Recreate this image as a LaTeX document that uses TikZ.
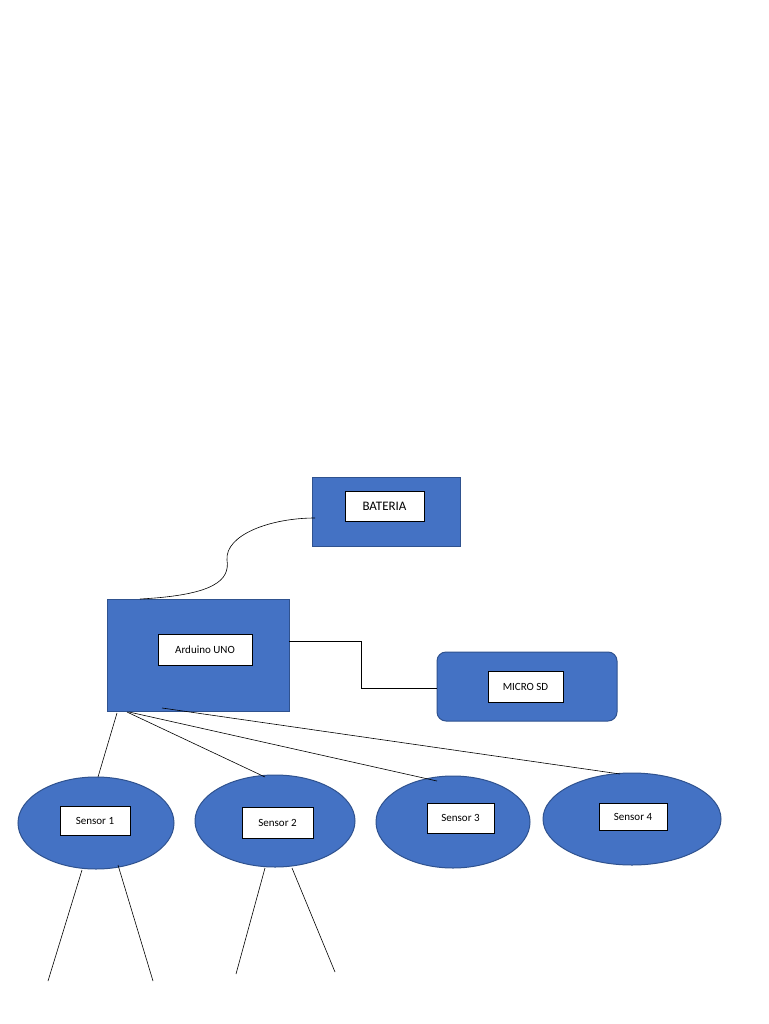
\documentclass[tikz,border=0pt]{standalone}
\usepackage{fontspec}
\setmainfont{Carlito}
\begin{document}
\begin{tikzpicture}[x=1pt,y=-1pt,
  blk/.style={fill={rgb,255:red,68;green,114;blue,196},draw={rgb,255:red,47;green,82;blue,143},line width=1pt},
  lbl/.style={fill=white,draw=black,line width=0.5pt,font=\fontsize{11}{12}\selectfont,inner sep=0pt},
  ln/.style={draw=black,line width=0.6pt}]
\useasboundingbox (0,0) rectangle (768,1024);
\fill[white] (0,0) rectangle (768,1024);
% blocks
\draw[blk] (312,477) rectangle (460,546);
\node[lbl,minimum width=79pt,minimum height=30pt,font=\fontsize{13}{14}\selectfont] (bat) at (384.5,506) {BATERIA};
\draw[blk] (107,599) rectangle (289,711);
\node[lbl,minimum width=94pt,minimum height=31pt] (ard) at (205,649.5) {Arduino UNO};
\draw[blk,rounded corners=9pt] (437,652) rectangle (617,721);
\node[lbl,minimum width=75pt,minimum height=31pt] (sd) at (525.5,686.5) {MICRO SD};
\draw[blk] (96,823) ellipse [x radius=78,y radius=46];
\draw[blk] (275,821) ellipse [x radius=80,y radius=46];
\draw[blk] (453,822) ellipse [x radius=77,y radius=46];
\draw[blk] (632,819) ellipse [x radius=89,y radius=46];
\node[lbl,minimum width=70pt,minimum height=29pt] (s1) at (95,820.5) {Sensor 1};
\node[lbl,minimum width=71pt,minimum height=31pt] (s2) at (277.5,822.5) {Sensor 2};
\node[lbl,minimum width=67pt,minimum height=30pt] (s3) at (460.5,818) {Sensor 3};
\node[lbl,minimum width=68pt,minimum height=27pt] (s4) at (633,816.5) {Sensor 4};
% connectors
\coordinate (ca) at (140,599);
\coordinate (cb) at (315,518);
\draw[ln] (ca) .. controls (215,595) and (230,580) .. (227,560) .. controls (225,535) and (270,518) .. (cb);
\draw[ln] (289,641) -- (361,641) -- (361,688) -- (437,688);
\draw[ln] (117,713) -- (98,777);
\draw[ln] (127,712) -- (265,777);
\draw[ln] (129,712) -- (437,781);
\draw[ln] (162,708) -- (620,774);
\draw[ln] (82,870) -- (48,981);
\draw[ln] (118,865) -- (153,981);
\draw[ln] (265,868) -- (236,974);
\draw[ln] (292,868) -- (335,972);
\end{tikzpicture}
\end{document}
